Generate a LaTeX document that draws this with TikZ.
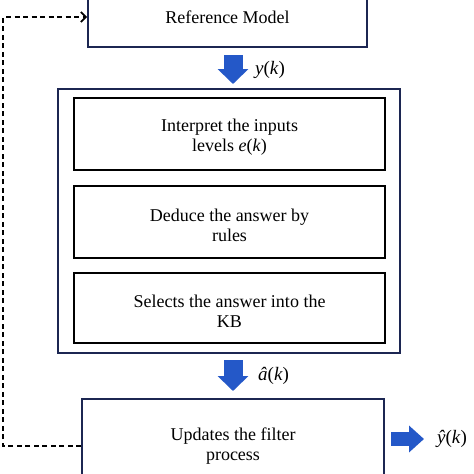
\documentclass[tikz,border=0pt]{standalone}
\usepackage{fontspec}
\setmainfont{Liberation Serif}
\usetikzlibrary{arrows.meta,calc}
\definecolor{navy}{RGB}{28,38,82}
\definecolor{arrowblue}{RGB}{36,88,200}
\tikzset{
  outerbox/.style={draw=navy,line width=1.8pt,fill=white,align=center,font=\fontsize{18}{20}\selectfont},
  innerbox/.style={draw=black,line width=1.8pt,fill=white,align=center,minimum width=311pt,text height=39pt,font=\fontsize{18}{20}\selectfont},
  blockarrow/.style={draw=arrowblue,line width=19pt,line cap=butt,-{Triangle[length=15pt,width=30pt]}},
  sidearrow/.style={draw=arrowblue,line width=14pt,line cap=butt,-{Triangle[length=15pt,width=26pt]}},
  feedback/.style={draw=black,line width=1.8pt,dash pattern=on 5pt off 3.5pt,-{Straight Barb[length=5pt,width=10pt]}},
  lbl/.style={font=\fontsize{19}{20}\selectfont,inner sep=0pt}
}
\begin{document}
\begin{tikzpicture}[x=1pt,y=-1pt]
\useasboundingbox (0,0) rectangle (474,474);
\clip (0,0) rectangle (474,474);
\fill[white] (0,0) rectangle (474,474);
% reference model
\node[outerbox,minimum width=279pt,minimum height=60pt] (ref) at (227.5,17) {Reference Model};
% fuzzy block
\node[outerbox,minimum width=342pt,minimum height=264pt] (fis) at (229,221) {};
\node[innerbox,minimum height=72pt] (b1) at (229.5,134) {Interpret the inputs\\levels \textit{e}(\textit{k})};
\node[innerbox,minimum height=72pt] (b2) at (229.5,222) {Deduce the answer by\\rules};
\node[innerbox,minimum height=70pt] (b3) at (229.5,308) {Selects the answer into the\\KB};
% update block
\node[outerbox,minimum width=302pt,minimum height=94pt] (upd) at (233,446) {Updates the filter\\process};
% block arrows
\coordinate (a1s) at (233,55);
\coordinate (a1e) at (233,84);
\draw[blockarrow] (a1s) -- (a1e);
\node[lbl,anchor=west] (ly) at (255,70) {\textit{y}(\textit{k})};
\coordinate (a2s) at (233,360);
\coordinate (a2e) at (233,391);
\draw[blockarrow] (a2s) -- (a2e);
\node[lbl,anchor=west] (la) at (258,376) {\textit{â}(\textit{k})};
\coordinate (a3s) at (391,439);
\coordinate (a3e) at (424,439);
\draw[sidearrow] (a3s) -- (a3e);
\node[lbl,anchor=west] (lyh) at (437,439) {\textit{ŷ}(\textit{k})};
% feedback
\draw[feedback] (upd.west) -- ++(-78,0) |- (ref.west);
\end{tikzpicture}
\end{document}
